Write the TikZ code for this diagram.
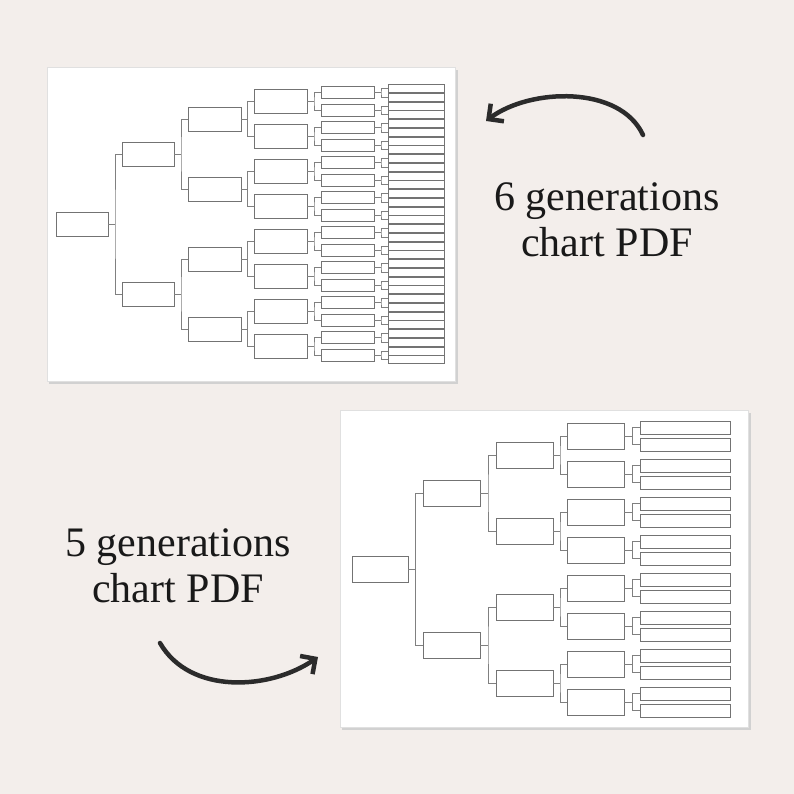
\documentclass[tikz,border=0pt]{standalone}
\usepackage{fontspec}
\setmainfont{Liberation Serif}
\usetikzlibrary{arrows.meta}
\definecolor{bg}{HTML}{F3EEEB}
\definecolor{ink}{HTML}{2B2B2B}
\tikzset{
 fbox/.style={draw=black!55,line width=0.6pt,fill=white,inner sep=0pt,outer sep=0pt},
 conn/.style={draw=black!50,line width=0.6pt},
 page/.style={fill=white,draw=black!12,line width=0.5pt},
 shadow/.style={fill=black!18},
 arr/.style={draw=ink,line width=4.5pt,line cap=round,-{Straight Barb[length=11pt,width=22pt,line width=4.5pt]}},
 lbl/.style={font=\fontsize{42}{46}\selectfont,text=black!90,align=center}
}
\newcommand\ftnode[3]{%
\begingroup
\pgfmathsetmacro\xl{\Xs[#1]}\pgfmathsetmacro\bw{\Ws[#1]}\pgfmathsetmacro\hh{\Hs[#1]}%
\node[fbox,minimum width=\bw pt,minimum height=\hh pt,anchor=west] (#3) at (\xl,#2) {};
\ifnum#1<\NG\relax
 \pgfmathtruncatemacro\ng{#1+1}%
 \pgfmathsetmacro\dd{\Ds[\ng]}%
 \pgfmathsetmacro\ya{#2-\dd}\pgfmathsetmacro\yb{#2+\dd}%
 \pgfmathsetmacro\xn{\Xs[\ng]}%
 \pgfmathsetmacro\xc{(\xl+\bw+\xn)/2}%
 \edef\tmp{\noexpand\ftnode{\ng}{\ya}{#3a}\noexpand\ftnode{\ng}{\yb}{#3b}}\tmp
 \coordinate (#3m) at (\xc,#2);
 \draw[conn] (#3.east) -- (#3m);
 \draw[conn] (#3a.west) -| (#3m) |- (#3b.west);
\fi
\endgroup}
\begin{document}
\begin{tikzpicture}[x=1pt,y=-1pt]
\fill[bg] (0,0) rectangle (794,794);
\useasboundingbox (0,0) rectangle (794,794);
% top page
\fill[shadow] (49,70) rectangle (458,384);
\path[page] (47,67) rectangle (455,381);
\def\Xs{{0,56,122,188,254,321,388}}
\def\Ws{{0,52,52,53,53,53,56}}
\def\Hs{{0,24,24,24,24,12,8}}
\def\Ds{{0,0,70,35,17.5,8.75,4.375}}
\def\NG{6}
\ftnode{1}{224}{t}
% bottom page
\fill[shadow] (342,413) rectangle (751,730);
\path[page] (340,410) rectangle (748,727);
\def\Xs{{0,352,423,496,567,640}}
\def\Ws{{0,56,57,57,57,90}}
\def\Hs{{0,26,26,26,26,13}}
\def\Ds{{0,0,76,38,19,8.7}}
\def\NG{5}
\ftnode{1}{569}{b}
% labels
\node[lbl] (l6) at (607,220) {6 generations\\chart PDF};
\node[lbl] (l5) at (178,566) {5 generations\\chart PDF};
% arrows
\coordinate (a1s) at (643,135); \coordinate (a1e) at (486,121);
\draw[arr] (a1s) .. controls (620,85) and (530,88) .. (a1e);
\coordinate (a2s) at (160,643); \coordinate (a2e) at (318,657);
\draw[arr] (a2s) .. controls (190,695) and (270,690) .. (a2e);
\end{tikzpicture}
\end{document}
